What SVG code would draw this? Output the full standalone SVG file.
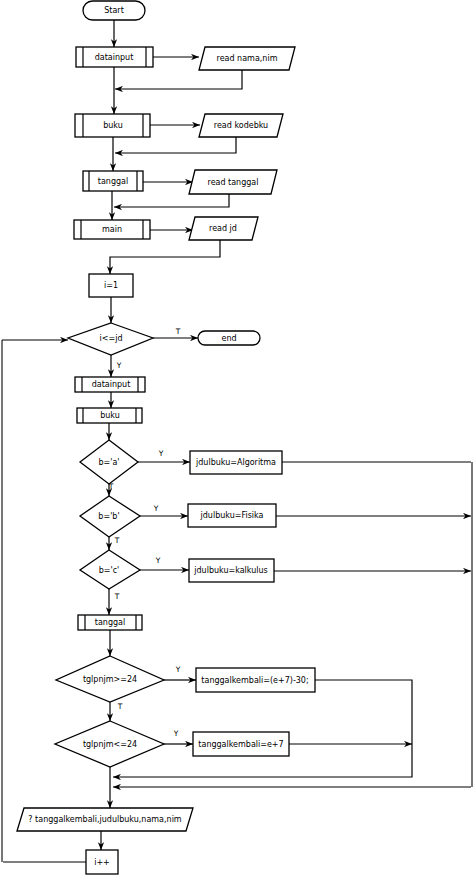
<svg xmlns="http://www.w3.org/2000/svg" width="474" height="875" viewBox="0 0 474 875">
<defs>
<marker id="ah" viewBox="0 0 10 8" refX="10" refY="4" markerWidth="8" markerHeight="6.4" markerUnits="userSpaceOnUse" orient="auto">
<path d="M0,0 L10,4 L0,8 L3,4 z" fill="#000"/>
</marker>
<style>
.s{fill:#fff;stroke:#000;stroke-width:1.3}
.c{fill:none;stroke:#000;stroke-width:1.2}
.g{fill:none;stroke:#777;stroke-width:2}
text{font-family:"DejaVu Sans",sans-serif;font-size:8px;fill:#000;text-anchor:middle;dominant-baseline:central}
.l{font-size:7.5px}
</style>
</defs>
<rect width="474" height="875" fill="#fff"/>
<g id="connectors">
<path class="c" d="M114,20 V47" marker-end="url(#ah)"/>
<path class="c" d="M153,57 H199" marker-end="url(#ah)"/>
<path class="c" d="M242,70 V89 H115" marker-end="url(#ah)"/>
<path class="c" d="M114,67 V114" marker-end="url(#ah)"/>
<path class="c" d="M150,125 H200" marker-end="url(#ah)"/>
<path class="c" d="M236,137 V153 H115" marker-end="url(#ah)"/>
<path class="c" d="M113,137 V171" marker-end="url(#ah)"/>
<path class="c" d="M143,182 H193" marker-end="url(#ah)"/>
<path class="c" d="M229,194 V207 H114" marker-end="url(#ah)"/>
<path class="c" d="M112,191 V220" marker-end="url(#ah)"/>
<path class="c" d="M150,230 H193" marker-end="url(#ah)"/>
<path class="c" d="M220,240 V257 H110 V274" marker-end="url(#ah)"/>
<path class="c" d="M111,297 V323" marker-end="url(#ah)"/>
<path class="c" d="M153,338 H198" marker-end="url(#ah)"/>
<path class="c" d="M111,355 V377" marker-end="url(#ah)"/>
<path class="c" d="M111,392 V408" marker-end="url(#ah)"/>
<path class="c" d="M109,423 V440" marker-end="url(#ah)"/>
<path class="c" d="M138,462 H190" marker-end="url(#ah)"/>
<path class="c" d="M282,462 H471"/>
<path class="g" d="M472,462 V787"/>
<path class="c" d="M471,787 H113" marker-end="url(#ah)"/>
<path class="c" d="M109,484 V496" marker-end="url(#ah)"/>
<path class="c" d="M140,516 H188" marker-end="url(#ah)"/>
<path class="c" d="M276,516 H471" marker-end="url(#ah)"/>
<path class="c" d="M109,537 V550" marker-end="url(#ah)"/>
<path class="c" d="M140,570 H189" marker-end="url(#ah)"/>
<path class="c" d="M274,571 H471" marker-end="url(#ah)"/>
<path class="c" d="M109,589 V615" marker-end="url(#ah)"/>
<path class="c" d="M110,630 V656" marker-end="url(#ah)"/>
<path class="c" d="M164,680 H196" marker-end="url(#ah)"/>
<path class="c" d="M315,680 H412 V777 H113" marker-end="url(#ah)"/>
<path class="c" d="M110,702 V721" marker-end="url(#ah)"/>
<path class="c" d="M164,744 H193" marker-end="url(#ah)"/>
<path class="c" d="M289,744 H412" marker-end="url(#ah)"/>
<path class="c" d="M110,767 V808" marker-end="url(#ah)"/>
<path class="c" d="M101,831 V850" marker-end="url(#ah)"/>
<path class="c" d="M86,862 H3"/>
<path class="g" d="M2,862 V340"/>
<path class="c" d="M2,340 H68" marker-end="url(#ah)"/>
<text class="l" x="178" y="331">T</text>
<text class="l" x="119" y="365">Y</text>
<text class="l" x="161" y="453">Y</text>
<text class="l" x="111" y="486">T</text>
<text class="l" x="156" y="508">Y</text>
<text class="l" x="117" y="540">T</text>
<text class="l" x="158" y="560">Y</text>
<text class="l" x="117" y="596">T</text>
<text class="l" x="178" y="669">Y</text>
<text class="l" x="120" y="706">T</text>
<text class="l" x="176" y="733">Y</text>
</g>
<g id="start"><rect class="s" x="83" y="1" width="62" height="19" rx="9.5"/><text x="114" y="10.5">Start</text></g>
<g id="datainput1"><rect class="s" x="76" y="47" width="77" height="20"/><path class="c" d="M83,47 V67 M146,47 V67"/><text x="114" y="57">datainput</text></g>
<g id="readnama"><path class="s" d="M205,47 H295 L289,70 H199 Z"/><text x="247" y="58.5">read nama,nim</text></g>
<g id="buku1"><rect class="s" x="75" y="114" width="75" height="23"/><path class="c" d="M83,114 V137 M143,114 V137"/><text x="113" y="125.5">buku</text></g>
<g id="readkode"><path class="s" d="M205,114 H283 L277,137 H199 Z"/><text x="241" y="125.5">read kodebku</text></g>
<g id="tanggal1"><rect class="s" x="83" y="171" width="60" height="20"/><path class="c" d="M89,171 V191 M137,171 V191"/><text x="113" y="181">tanggal</text></g>
<g id="readtanggal"><path class="s" d="M195,170 H277 L271,194 H189 Z"/><text x="233" y="182">read tanggal</text></g>
<g id="main"><rect class="s" x="74" y="220" width="76" height="19"/><path class="c" d="M81,220 V239 M143,220 V239"/><text x="112" y="229.5">main</text></g>
<g id="readjd"><path class="s" d="M195,217 H258 L252,240 H189 Z"/><text x="223" y="228.5">read jd</text></g>
<g id="init"><rect class="s" x="89" y="274" width="44" height="23"/><text x="111" y="285.5">i=1</text></g>
<g id="cond"><path class="s" d="M111,323 L153,338 L111,355 L68,338 Z"/><text x="111" y="338.5">i&lt;=jd</text></g>
<g id="end"><rect class="s" x="198" y="331" width="62" height="14" rx="7"/><text x="229" y="338">end</text></g>
<g id="datainput2"><rect class="s" x="75" y="377" width="70" height="15"/><path class="c" d="M82,377 V392 M138,377 V392"/><text x="111" y="384.5">datainput</text></g>
<g id="buku2"><rect class="s" x="77" y="408" width="65" height="15"/><path class="c" d="M83,408 V423 M136,408 V423"/><text x="110" y="415.5">buku</text></g>
<g id="da"><path class="s" d="M109,440 L138,462 L109,484 L80,462 Z"/><text x="109" y="462">b='a'</text></g>
<g id="ra"><rect class="s" x="190" y="451" width="92" height="23"/><text x="236" y="462.5">jdulbuku=Algoritma</text></g>
<g id="db"><path class="s" d="M109,496 L140,516 L109,537 L80,516 Z"/><text x="109" y="516.5">b='b'</text></g>
<g id="rb"><rect class="s" x="188" y="504" width="88" height="23"/><text x="232" y="515.5">jdulbuku=Fisika</text></g>
<g id="dc"><path class="s" d="M109,550 L140,570 L109,589 L80,570 Z"/><text x="109" y="570">b='c'</text></g>
<g id="rc"><rect class="s" x="189" y="559" width="85" height="23"/><text x="231" y="570.5">jdulbuku=kalkulus</text></g>
<g id="tanggal2"><rect class="s" x="78" y="615" width="64" height="15"/><path class="c" d="M85,615 V630 M136,615 V630"/><text x="110" y="622.5">tanggal</text></g>
<g id="dge"><path class="s" d="M110,656 L164,680 L110,702 L56,680 Z"/><text x="110" y="679">tglpnjm&gt;=24</text></g>
<g id="rge"><rect class="s" x="196" y="668" width="119" height="24"/><text x="255" y="680">tanggalkembali=(e+7)-30;</text></g>
<g id="dle"><path class="s" d="M110,721 L164,744 L110,767 L55,744 Z"/><text x="110" y="744">tglpnjm&lt;=24</text></g>
<g id="rle"><rect class="s" x="193" y="732" width="96" height="24"/><text x="241" y="744">tanggalkembali=e+7</text></g>
<g id="out"><path class="s" d="M24,808 H193 L186,831 H17 Z"/><text x="105" y="819.5">? tanggalkembali,judulbuku,nama,nim</text></g>
<g id="inc"><rect class="s" x="86" y="850" width="32" height="24"/><text x="102" y="862">i++</text></g>
</svg>
